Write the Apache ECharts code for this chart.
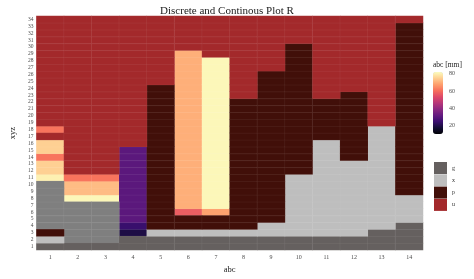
<!DOCTYPE html>
<html>
<head>
<meta charset="utf-8">
<script src="https://cdn.jsdelivr.net/npm/echarts@6/dist/echarts.min.js"></script>
<style>
  html, body { margin: 0; background: #fff; }
  #chart { width: 474px; height: 279px; }
</style>
</head>
<body>
<div id="chart"></div>
<script>
// categories
const xCats = ['1', '2', '3', '4', '5', '6', '7', '8', '9', '10', '11', '12', '13', '14']
const yCats = Array.from({ length: 34 }, (_, i) => String(i + 1))
const classes = ['g', 'x', 'p', 'u']
const colorbarTicks = [20, 40, 60, 80]

// each column, bottom to top: [class or value in mm, fromRow, toRow]
const col1 = [['g', 1, 1], ['x', 2, 2], ['p', 3, 3], ['NA', 4, 10], [80, 11, 11], [75, 12, 13], [61, 14, 14], [75, 15, 16], ['u', 17, 17], [61, 18, 18], ['u', 19, 34]]
const col2 = [['g', 1, 1], ['NA', 2, 7], [81, 8, 8], [72, 9, 10], [61, 11, 11], ['u', 12, 34]]
const col3 = [['g', 1, 1], ['NA', 2, 7], [81, 8, 8], [72, 9, 10], [61, 11, 11], ['u', 12, 34]]
const col4 = [['g', 1, 2], [19, 3, 3], [24, 4, 4], [30, 5, 15], ['u', 16, 34]]
const col5 = [['g', 1, 2], ['x', 3, 3], ['p', 4, 24], ['u', 25, 34]]
const col6 = [['g', 1, 2], ['x', 3, 3], ['p', 4, 5], [57, 6, 6], [70, 7, 29], ['u', 30, 34]]
const col7 = [['g', 1, 2], ['x', 3, 3], ['p', 4, 5], [68, 6, 6], [81, 7, 28], ['u', 29, 34]]
const col8 = [['g', 1, 2], ['x', 3, 3], ['p', 4, 22], ['u', 23, 34]]
const col9 = [['g', 1, 2], ['x', 3, 4], ['p', 5, 26], ['u', 27, 34]]
const col10 = [['g', 1, 2], ['x', 3, 11], ['p', 12, 30], ['u', 31, 34]]
const col11 = [['g', 1, 2], ['x', 3, 16], ['p', 17, 22], ['u', 23, 34]]
const col12 = [['g', 1, 2], ['x', 3, 13], ['p', 14, 23], ['u', 24, 34]]
const col13 = [['g', 1, 3], ['x', 4, 18], ['u', 19, 34]]
const col14 = [['g', 1, 4], ['x', 5, 8], ['p', 9, 33], ['u', 34, 34]]
const columns = [col1, col2, col3, col4, col5, col6, col7, col8, col9, col10, col11, col12, col13, col14]

const classColors = { g: '#65605f', x: '#bebebe', p: '#410f09', u: '#a3292b', NA: '#7f7f7f' }
const magma = ['#000004', '#140e36', '#3b0f70', '#641a80', '#8c2981', '#b73779', '#de4968', '#f7705c', '#fe9f6d', '#fecf92', '#fcfdbf']

const cells = { value: [], NA: [], g: [], x: [], p: [], u: [] }
columns.forEach((col, xi) => {
  col.forEach(([kind, from, to]) => {
    for (let r = from; r <= to; r++) {
      if (typeof kind === 'number') cells.value.push([xi, r - 1, kind])
      else cells[kind].push([xi, r - 1, 0])
    }
  })
})

const serif = "'Liberation Serif', 'DejaVu Serif', serif"
const tileBorder = { borderColor: 'rgba(255,255,255,0.1)', borderWidth: 0.5 }

const chart = echarts.init(document.getElementById('chart'))
chart.setOption({
  animation: false,
  textStyle: { fontFamily: serif },
  title: [
    {
      text: 'Discrete and Continous Plot R',
      left: 222, top: 1, textAlign: 'center',
      textStyle: { fontFamily: serif, fontSize: 11, fontWeight: 'normal', color: '#1a1a1a' }
    },
    {
      text: 'abc [mm]',
      left: 433, top: 61, padding: 0,
      textStyle: { fontFamily: serif, fontSize: 7.5, fontWeight: 'normal', color: '#1a1a1a' }
    }
  ],
  grid: [
    { left: 22, right: 51, top: 16, bottom: 23 },
    { left: 433, top: 72, width: 10, height: 62 }
  ],
  xAxis: [
    {
      type: 'category', data: xCats, gridIndex: 0,
      axisLine: { show: false },
      axisTick: { alignWithLabel: true, length: 2, lineStyle: { color: '#333' } },
      axisLabel: { fontSize: 6, color: '#4d4d4d', margin: 4, fontFamily: serif },
      splitLine: { show: false },
      name: 'abc', nameLocation: 'middle', nameGap: 15,
      nameTextStyle: { fontFamily: serif, fontSize: 8.5, color: '#1a1a1a' }
    },
    { type: 'value', gridIndex: 1, show: false, min: 0, max: 1 }
  ],
  yAxis: [
    {
      type: 'category', data: yCats, gridIndex: 0,
      axisLine: { show: false },
      axisTick: { alignWithLabel: true, length: 2, lineStyle: { color: '#333' } },
      axisLabel: { interval: 0, fontSize: 5.5, color: '#4d4d4d', margin: 3, fontFamily: serif },
      splitLine: { show: false },
      name: 'xyz', nameLocation: 'middle', nameGap: 14, nameRotate: 90,
      nameTextStyle: { fontFamily: serif, fontSize: 8.5, color: '#1a1a1a' }
    },
    {
      type: 'value', gridIndex: 1, min: 10, max: 82, position: 'right',
      axisLine: { show: false },
      splitLine: { show: false },
      axisTick: { show: true, inside: true, length: 2, customValues: colorbarTicks, lineStyle: { color: '#fff', width: 0.8 } },
      axisLabel: { customValues: colorbarTicks, fontSize: 6, color: '#4d4d4d', margin: 6, fontFamily: serif }
    }
  ],
  visualMap: {
    type: 'continuous', seriesIndex: 0, min: 10, max: 82,
    calculable: false, orient: 'vertical',
    left: 433, top: 72, itemWidth: 10, itemHeight: 62, padding: 0,
    inRange: { color: magma }
  },
  legend: {
    data: classes, orient: 'vertical', left: 434, top: 162,
    itemWidth: 13, itemHeight: 12, itemGap: 0.3, padding: 0,
    icon: 'rect', selectedMode: false,
    itemStyle: { borderWidth: 0 },
    textStyle: { fontFamily: serif, fontSize: 6, color: '#333', padding: [0, 0, 0, 0] }
  },
  series: [
    { type: 'heatmap', name: 'abc [mm]', data: cells.value, itemStyle: tileBorder },
    { type: 'heatmap', name: 'NA', data: cells.NA, itemStyle: { ...tileBorder, color: classColors.NA } },
    ...classes.map(c => ({
      type: 'heatmap', name: c, data: cells[c],
      itemStyle: { ...tileBorder, color: classColors[c] }
    }))
  ]
})
</script>
</body>
</html>
